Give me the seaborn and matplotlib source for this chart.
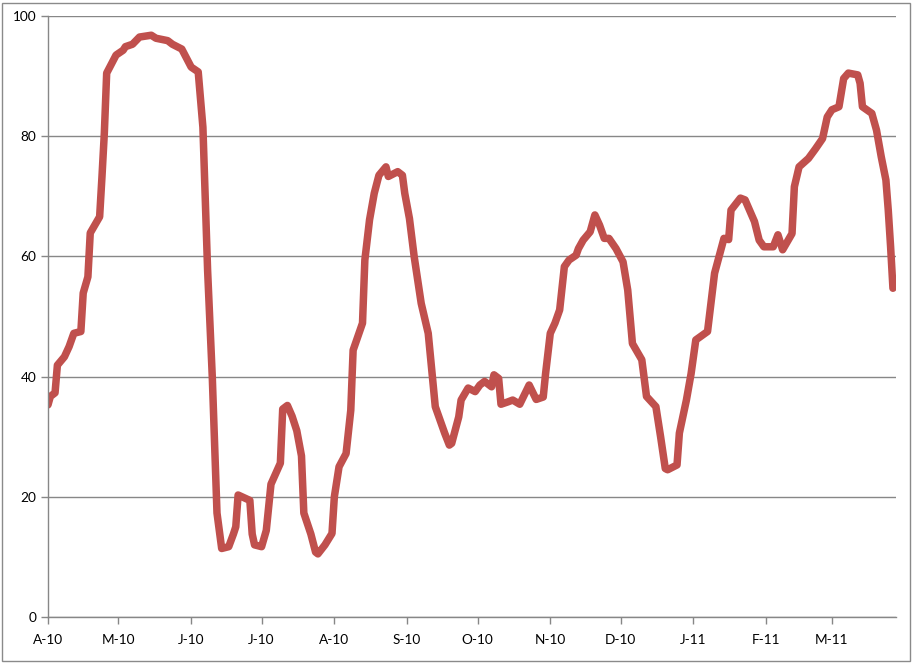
import pandas as pd
import numpy as np
import matplotlib
matplotlib.use("Agg")
import matplotlib.pyplot as plt
import matplotlib.dates as mdates
import seaborn as sns

# series (Apr 2010 - Mar 2011)
dates = [
    "2010-04-01", "2010-04-02", "2010-04-04", "2010-04-05", "2010-04-08", "2010-04-10",
    "2010-04-12", "2010-04-15", "2010-04-16", "2010-04-18", "2010-04-19", "2010-04-23",
    "2010-04-24", "2010-04-25", "2010-04-26", "2010-04-30", "2010-05-03", "2010-05-04",
    "2010-05-07", "2010-05-10", "2010-05-15", "2010-05-17", "2010-05-22", "2010-05-24",
    "2010-05-28", "2010-06-01", "2010-06-04", "2010-06-06", "2010-06-07", "2010-06-08",
    "2010-06-10", "2010-06-12", "2010-06-14", "2010-06-17", "2010-06-19", "2010-06-20",
    "2010-06-21", "2010-06-26", "2010-06-27", "2010-06-28", "2010-07-01", "2010-07-03",
    "2010-07-05", "2010-07-09", "2010-07-10", "2010-07-12", "2010-07-14", "2010-07-16",
    "2010-07-18", "2010-07-19", "2010-07-22", "2010-07-24", "2010-07-25", "2010-07-28",
    "2010-07-31", "2010-08-01", "2010-08-03", "2010-08-06", "2010-08-08", "2010-08-09",
    "2010-08-13", "2010-08-14", "2010-08-16", "2010-08-18", "2010-08-20", "2010-08-23",
    "2010-08-24", "2010-08-28", "2010-08-30", "2010-08-31", "2010-09-02", "2010-09-04",
    "2010-09-07", "2010-09-10", "2010-09-13", "2010-09-17", "2010-09-19", "2010-09-20",
    "2010-09-23", "2010-09-24", "2010-09-27", "2010-09-30", "2010-10-02", "2010-10-04",
    "2010-10-07", "2010-10-08", "2010-10-10", "2010-10-11", "2010-10-14", "2010-10-16",
    "2010-10-19", "2010-10-23", "2010-10-26", "2010-10-29", "2010-10-30", "2010-11-01",
    "2010-11-03", "2010-11-05", "2010-11-07", "2010-11-09", "2010-11-12", "2010-11-13",
    "2010-11-15", "2010-11-18", "2010-11-20", "2010-11-22", "2010-11-24", "2010-11-26",
    "2010-11-29", "2010-12-02", "2010-12-04", "2010-12-06", "2010-12-10", "2010-12-12",
    "2010-12-16", "2010-12-18", "2010-12-20", "2010-12-21", "2010-12-25", "2010-12-26",
    "2010-12-29", "2010-12-31", "2011-01-02", "2011-01-07", "2011-01-10", "2011-01-14",
    "2011-01-16", "2011-01-17", "2011-01-21", "2011-01-23", "2011-01-27", "2011-01-29",
    "2011-01-31", "2011-02-04", "2011-02-06", "2011-02-08", "2011-02-12", "2011-02-13",
    "2011-02-15", "2011-02-19", "2011-02-22", "2011-02-25", "2011-02-27", "2011-03-01",
    "2011-03-04", "2011-03-06", "2011-03-08", "2011-03-12", "2011-03-13", "2011-03-14",
    "2011-03-18", "2011-03-20", "2011-03-22", "2011-03-24", "2011-03-25", "2011-03-26",
    "2011-03-27",
]
values = [
    35.3, 36.7, 37.3, 41.9, 43.3, 45.0,
    47.2, 47.5, 53.9, 56.6, 63.9, 66.6,
    73.3, 80.5, 90.5, 93.5, 94.3, 94.9,
    95.3, 96.5, 96.8, 96.3, 95.9, 95.3,
    94.5, 91.5, 90.7, 81.5, 69.6, 57.7,
    39.9, 17.3, 11.4, 11.7, 13.8, 15.0,
    20.3, 19.4, 13.8, 12.0, 11.7, 14.4,
    22.1, 25.6, 34.6, 35.2, 33.4, 31.0,
    26.8, 17.3, 13.8, 10.8, 10.5, 12.0,
    13.9, 20.0, 25.0, 27.2, 34.4, 44.4,
    48.9, 59.4, 66.1, 70.5, 73.5, 74.9,
    73.3, 74.1, 73.5, 70.5, 66.3, 60.0,
    52.2, 47.2, 35.0, 30.6, 28.6, 28.9,
    33.3, 36.1, 38.1, 37.5, 38.6, 39.2,
    38.3, 40.3, 39.7, 35.4, 35.8, 36.1,
    35.4, 38.6, 36.2, 36.6, 40.5, 47.2,
    48.9, 51.1, 58.3, 59.4, 60.2, 61.3,
    62.7, 64.1, 66.9, 65.2, 63.0, 63.0,
    61.3, 59.1, 54.4, 45.5, 42.8, 36.7,
    35.0, 30.0, 24.7, 24.5, 25.3, 30.6,
    36.1, 40.5, 46.1, 47.5, 57.2, 63.0,
    62.8, 67.7, 69.7, 69.4, 65.8, 62.7,
    61.6, 61.6, 63.6, 61.1, 63.8, 71.6,
    74.9, 76.3, 77.9, 79.6, 83.2, 84.4,
    84.9, 89.6, 90.5, 90.2, 88.8, 84.9,
    83.8, 81.0, 76.6, 72.7, 67.7, 61.6,
    54.7,
]

month_starts = ["2010-04-01", "2010-05-01", "2010-06-01", "2010-07-01", "2010-08-01",
                "2010-09-01", "2010-10-01", "2010-11-01", "2010-12-01", "2011-01-01",
                "2011-02-01", "2011-03-01"]
month_labels = ["A-10", "M-10", "J-10", "J-10", "A-10", "S-10",
                "O-10", "N-10", "D-10", "J-11", "F-11", "M-11"]
y_ticks = [0, 20, 40, 60, 80, 100]

df = pd.DataFrame({"date": pd.to_datetime(dates), "value": values})

sns.set_theme(style="white")
plt.rcParams["font.family"] = ["Lato", "DejaVu Sans"]

fig = plt.figure(figsize=(9.13, 6.63), dpi=100)
ax = fig.add_axes([48 / 913, 1 - 617 / 663, (896 - 48) / 913, (617 - 16) / 663])

sns.lineplot(data=df, x="date", y="value", ax=ax, color="#C0504D", linewidth=5.4,
             solid_joinstyle="round", solid_capstyle="round")

grid_col = "#878787"
ax.set_ylim(0, 100)
ax.set_yticks(y_ticks)
ax.set_yticklabels([str(v) for v in y_ticks])
ax.set_xlim(pd.Timestamp("2010-04-01"), pd.Timestamp("2010-04-01") + pd.Timedelta(days=361.3))
ax.set_xticks(pd.to_datetime(month_starts))
ax.set_xticklabels(month_labels)
ax.set_xlabel("")
ax.set_ylabel("")

ax.yaxis.grid(True, color=grid_col, linewidth=1.0)
ax.xaxis.grid(False)
ax.set_axisbelow(True)
for side in ["top", "right"]:
    ax.spines[side].set_visible(False)
for side in ["left", "bottom"]:
    ax.spines[side].set_color(grid_col)
    ax.spines[side].set_linewidth(1.0)

ax.tick_params(axis="both", which="major", direction="out", length=5, width=1.0,
               color=grid_col, labelsize=9.8, labelcolor="black")
ax.tick_params(axis="y", pad=3.5)
ax.tick_params(axis="x", pad=7)
ax.tick_params(left=True, bottom=True)

# outer chart border
fig.patches.append(plt.Rectangle((2 / 913, 2 / 663), 908 / 913, 658 / 663,
                                 transform=fig.transFigure, fill=False,
                                 edgecolor="#8a8a8a", linewidth=1.0))

fig.savefig("out.png", dpi=100)
